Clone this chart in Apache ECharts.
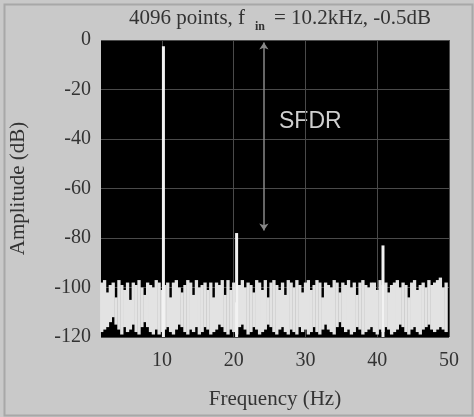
<!DOCTYPE html>
<html><head><meta charset="utf-8">
<script src="https://cdn.jsdelivr.net/npm/echarts@6/dist/echarts.min.js"></script>
<style>html,body{margin:0;padding:0;background:#c9c9c9}#c{width:474px;height:417px}</style>
</head><body><div id="c"></div>
<script>
var xTicks = [10, 20, 30, 40, 50];
var yTicks = [0, -20, -40, -60, -80, -100, -120];
var spikeFreq = [10.2, 20.4, 40.8];
var spikeAmp = [-2.5, -78, -83];
var noiseStart = 1.6, noiseStep = 0.4;
var noiseHi = [-98,-97,-102,-99,-98,-104,-97,-99,-101,-98,-105,-98,-99,-97,-100,-103,-98,-99,-100,-97,
 -98,-101,-99,-98,-104,-98,-97,-100,-102,-99,-97,-98,-103,-97,-100,-99,-98,-101,-98,-104,
 -98,-99,-97,-103,-97,-101,-98,-106,-99,-97,-100,-98,-99,-102,-97,-98,-101,-97,-104,-98,
 -97,-99,-101,-98,-103,-97,-98,-100,-97,-99,-102,-98,-97,-101,-99,-97,-98,-104,-98,-99,
 -100,-97,-98,-102,-98,-99,-97,-100,-98,-103,-98,-97,-99,-100,-98,-98,-101,-97,-99,-98,
 -102,-99,-98,-97,-100,-98,-99,-104,-98,-97,-101,-99,-98,-100,-97,-99,-98,-97,-96,-100,-98];
var noiseLo = [-118,-117,-116,-114,-112,-115,-117,-119,-116,-118,-117,-115,-118,-119,-116,-114,-116,-118,-119,-117,
 -119,-118,-117,-116,-118,-119,-117,-115,-116,-118,-119,-117,-118,-116,-119,-118,-116,-117,-119,-118,
 -117,-115,-116,-118,-119,-117,-118,-119,-116,-115,-117,-119,-118,-116,-117,-119,-118,-117,-115,-116,
 -118,-119,-117,-116,-118,-119,-117,-118,-119,-116,-118,-117,-119,-118,-116,-118,-119,-117,-115,-117,
 -118,-119,-116,-114,-116,-118,-117,-119,-118,-116,-117,-119,-118,-117,-116,-118,-119,-117,-118,-116,
 -117,-119,-118,-117,-115,-116,-118,-119,-117,-116,-118,-119,-117,-116,-115,-117,-118,-117,-116,-117,-118];

var rows = [];
for (var i = 0; i < noiseHi.length; i++) rows.push([noiseStart + i * noiseStep, noiseLo[i], noiseHi[i], 0]);
for (var j = 0; j < spikeFreq.length; j++) rows.push([spikeFreq[j], -120, spikeAmp[j], 1]);

var chart = echarts.init(document.getElementById('c'));
var serif = 'Liberation Serif';
chart.setOption({
  backgroundColor: '#c9c9c9',
  animation: false,
  graphic: [
    {type: 'text', left: 129, top: 8, style: {text: '4096 points, f', font: '21px ' + serif, fill: '#333'}},
    {type: 'text', left: 255, top: 21, style: {text: 'in', font: 'bold 12px ' + serif, fill: '#333'}},
    {type: 'text', left: 274, top: 8, style: {text: '= 10.2kHz, -0.5dB', font: '21px ' + serif, fill: '#333'}},
    {type: 'text', left: 279, top: 110, style: {text: 'SFDR', font: '23px Liberation Sans', fill: '#cfcfcf'}},
    {type: 'rect', left: 2, top: 2, shape: {width: 468, height: 411}, style: {fill: 'none', stroke: '#a8a8a8', lineWidth: 2}}
  ],
  grid: {left: 99, right: 25, top: 40, bottom: 80, show: true, backgroundColor: '#000', borderWidth: 0},
  xAxis: {type: 'value', min: 1.5, max: 50,
    name: 'Frequency (Hz)', nameLocation: 'middle', nameGap: 52,
    nameTextStyle: {fontFamily: serif, fontSize: 21, color: '#333'},
    axisLine: {show: false}, axisTick: {show: false, customValues: xTicks},
    axisLabel: {customValues: xTicks, fontFamily: serif, fontSize: 20, color: '#333', margin: 14},
    splitLine: {show: true, lineStyle: {color: '#4a4a4a', width: 1}}},
  yAxis: {type: 'value', min: -120, max: 0, interval: 20,
    name: 'Amplitude (dB)', nameLocation: 'middle', nameGap: 72,
    nameTextStyle: {fontFamily: serif, fontSize: 21, color: '#333'},
    axisLine: {show: false}, axisTick: {show: false},
    axisLabel: {fontFamily: serif, fontSize: 20, color: '#333', margin: 10},
    splitLine: {show: true, lineStyle: {color: '#4a4a4a', width: 1}}},
  series: [{
    type: 'custom',
    data: rows,
    encode: {x: 0, y: [1, 2]},
    renderItem: function (params, api) {
      var x = api.value(0);
      var a = api.coord([x, api.value(1)]);
      var b = api.coord([x, api.value(2)]);
      var spike = api.value(3) === 1;
      var w = spike ? 3 : 3.3;
      return {type: 'rect', shape: {x: a[0] - w / 2, y: b[1], width: w, height: a[1] - b[1]},
        style: {fill: spike ? '#f2f2f2' : '#e3e3e3'}};
    },
    markLine: {
      silent: true, symbol: ['arrow', 'arrow'], symbolSize: 7,
      lineStyle: {color: '#888', type: 'solid', width: 1.5}, label: {show: false},
      data: [[{coord: [24.2, -1]}, {coord: [24.2, -77]}]]
    }
  }]
});
</script></body></html>
